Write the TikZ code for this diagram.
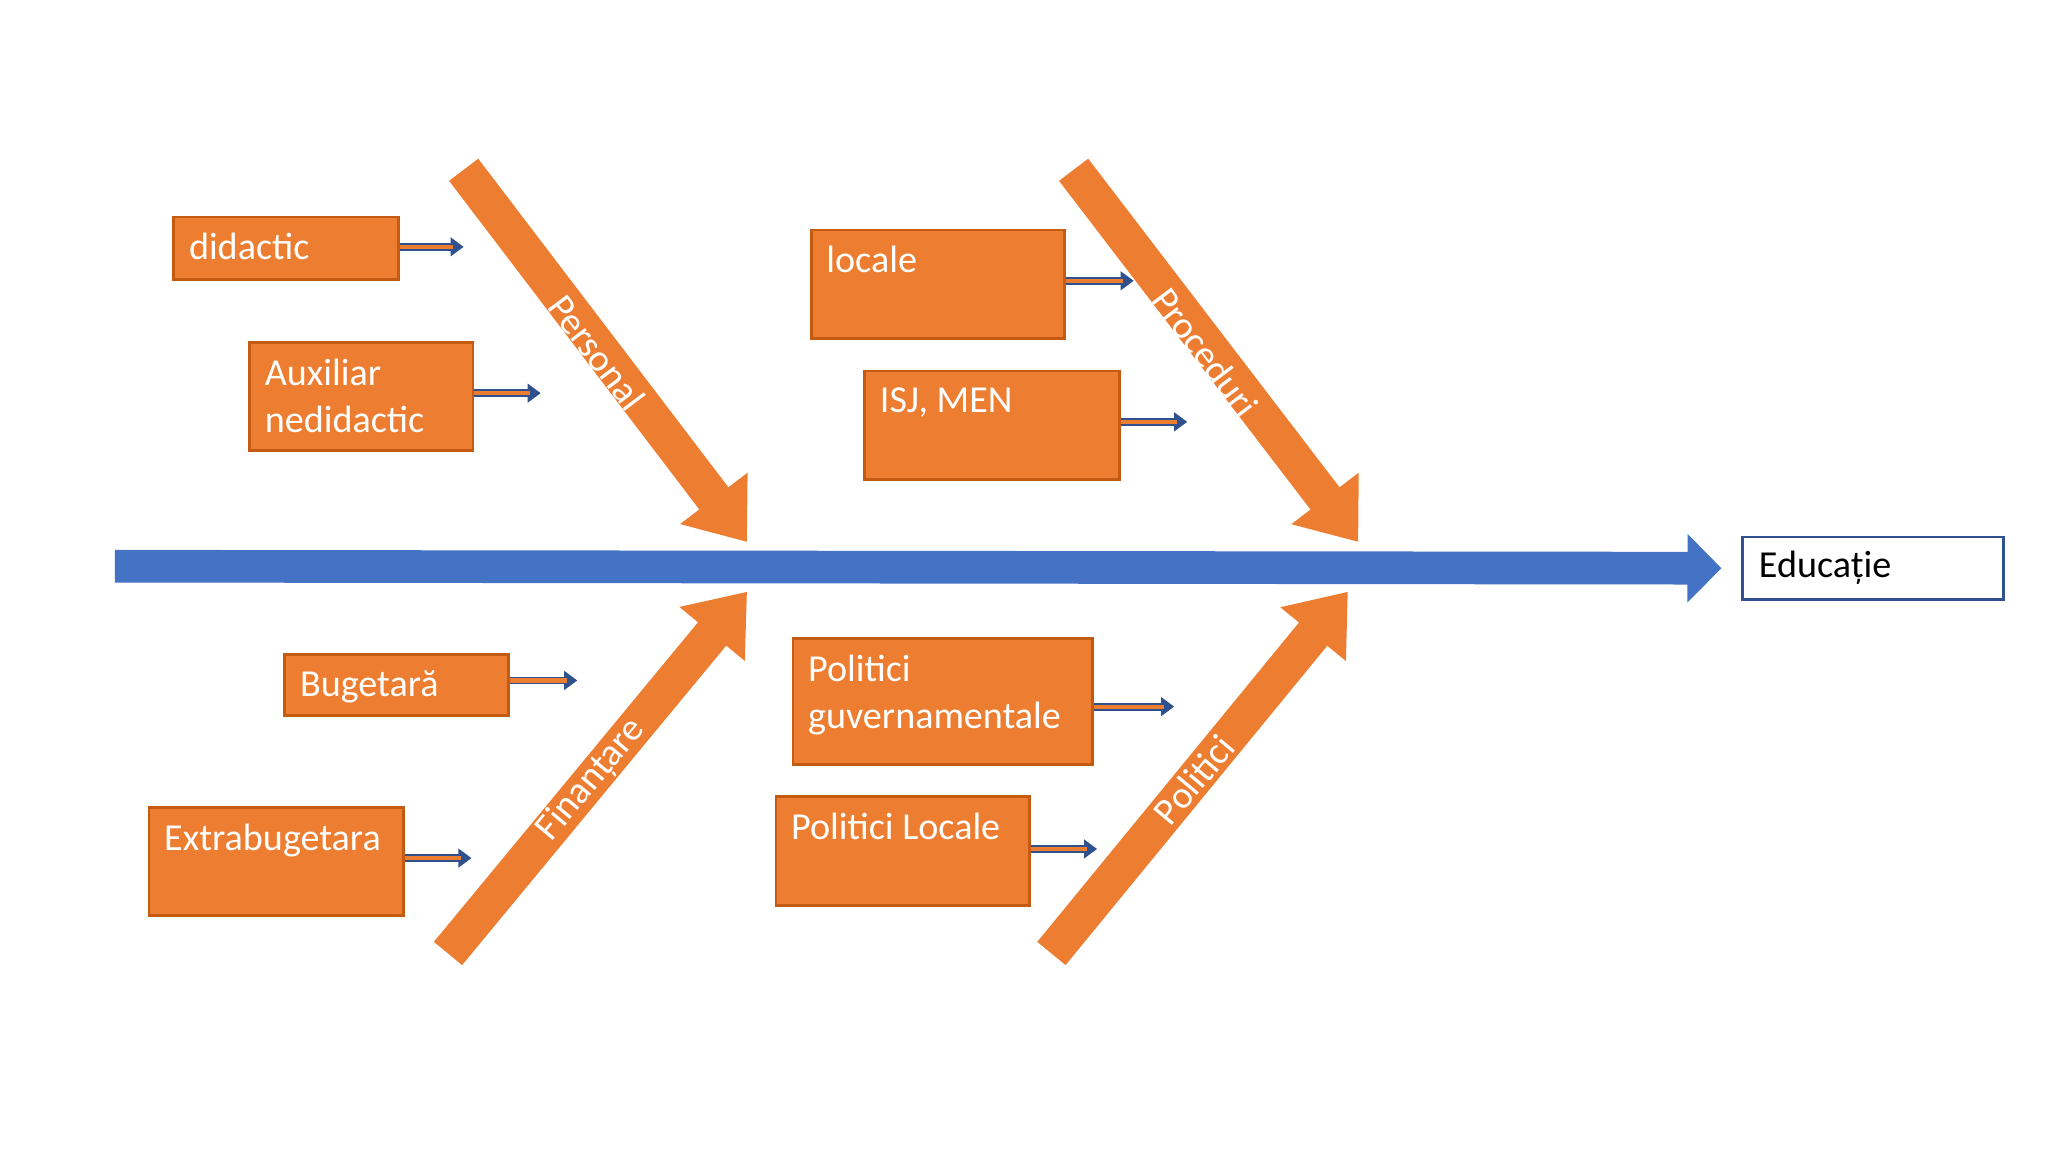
\documentclass[tikz,border=0pt]{standalone}
\usepackage{fontspec}
\setmainfont{Carlito}
\usetikzlibrary{arrows.meta,positioning}

\definecolor{boxfill}{HTML}{ED7D31}
\definecolor{boxline}{HTML}{C55A11}
\definecolor{spine}{HTML}{4472C4}
\definecolor{spineline}{HTML}{2F528F}

\tikzset{
  box/.style={draw=boxline, fill=boxfill, line width=0.6pt, anchor=north west, inner sep=0pt},
  txt/.style={anchor=north west, inner sep=0pt, text=white, align=left, font=\fontsize{8.3}{10}\selectfont},
  bone/.style={draw=boxfill, line width=0.28cm, -{Triangle[length=0.42cm,width=0.62cm,fill=boxfill]}},
  bonelabel/.style={text=white, font=\fontsize{8.3}{10}\selectfont},
  small/.style={draw=spineline, line width=0.06cm, -{Triangle[length=0.1cm,width=0.14cm]}},
  smallfill/.style={draw=boxfill, line width=0.032cm, shorten >=0.08cm}
}

\begin{document}
\begin{tikzpicture}[x=0.01cm,y=-0.01cm]
	\useasboundingbox (0,0) rectangle (1568,882);

	% spine
	\node [draw=spineline, fill=white, line width=0.6pt, minimum width=2cm, minimum height=0.48cm, anchor=north west, inner sep=0pt] (edu) at (1333,410) {};
	\node [anchor=west, inner sep=0pt, font=\fontsize{8.3}{10}\selectfont] at ([xshift=0.13cm]edu.west) {Educație};
	\coordinate (tail) at (88,433.5);
	\draw [draw=spine, line width=0.25cm, -{Triangle[length=0.26cm,width=0.51cm,fill=spine]}, shorten >=0.15cm] (tail) -- (edu.west);

	% bones
	\coordinate (pers0) at (355,130);
	\coordinate (pers1) at (572,415);
	\coordinate (proc0) at (822,130);
	\coordinate (proc1) at (1040,415);
	\coordinate (fin0) at (343,730);
	\coordinate (fin1) at (572,453);
	\coordinate (pol0) at (805,730);
	\coordinate (pol1) at (1032,453);
	\draw [bone] (pers0) -- (pers1);
	\draw [bone] (proc0) -- (proc1);
	\draw [bone] (fin0) -- (fin1);
	\draw [bone] (pol0) -- (pol1);
	\node [bonelabel, rotate=-53] at (457,270) {Personal};
	\node [bonelabel, rotate=-53] at (923,270) {Proceduri};
	\node [bonelabel, rotate=50] at (453,597) {Finanțare};
	\node [bonelabel, rotate=50] at (914,597) {Politici};

	% cause boxes
	\node [box, minimum width=1.72cm, minimum height=0.48cm] (did) at (132,165) {};
	\node [txt] at ([shift={(12,13)}]did.north west) {didactic};
	\node [box, minimum width=1.71cm, minimum height=0.83cm] (aux) at (190,261) {};
	\node [txt] at ([shift={(12,13)}]aux.north west) {Auxiliar\\[0.2pt]nedidactic};
	\node [box, minimum width=1.94cm, minimum height=0.83cm] (loc) at (620,175) {};
	\node [txt] at ([shift={(12,13)}]loc.north west) {locale};
	\node [box, minimum width=1.95cm, minimum height=0.83cm] (isj) at (661,283) {};
	\node [txt] at ([shift={(12,13)}]isj.north west) {ISJ, MEN};
	\node [box, minimum width=1.71cm, minimum height=0.47cm] (bug) at (217,500) {};
	\node [txt] at ([shift={(12,13)}]bug.north west) {Bugetară};
	\node [box, minimum width=1.95cm, minimum height=0.83cm] (ext) at (113,617) {};
	\node [txt] at ([shift={(12,13)}]ext.north west) {Extrabugetara};
	\node [box, minimum width=2.29cm, minimum height=0.96cm] (guv) at (606,488) {};
	\node [txt] at ([shift={(12,13)}]guv.north west) {Politici\\[0.2pt]guvernamentale};
	\node [box, minimum width=1.94cm, minimum height=0.83cm] (ploc) at (593,609) {};
	\node [txt] at ([shift={(12,13)}]ploc.north west) {Politici Locale};

	% small arrows
	\coordinate (didend) at (355,189);
	\coordinate (auxend) at (414,301);
	\coordinate (locend) at (868,215);
	\coordinate (isjend) at (909,323);
	\coordinate (bugend) at (442,521);
	\coordinate (extend) at (361,657);
	\coordinate (guvend) at (899,541);
	\coordinate (plocend) at (840,650);
	\foreach \src/\dst in {did/didend, aux/auxend, loc/locend, isj/isjend, bug/bugend, ext/extend, guv/guvend, ploc/plocend}
	{
		\draw [small] (\src.east |- \dst) -- (\dst);
		\draw [smallfill] (\src.east |- \dst) -- (\dst);
	}
\end{tikzpicture}
\end{document}
